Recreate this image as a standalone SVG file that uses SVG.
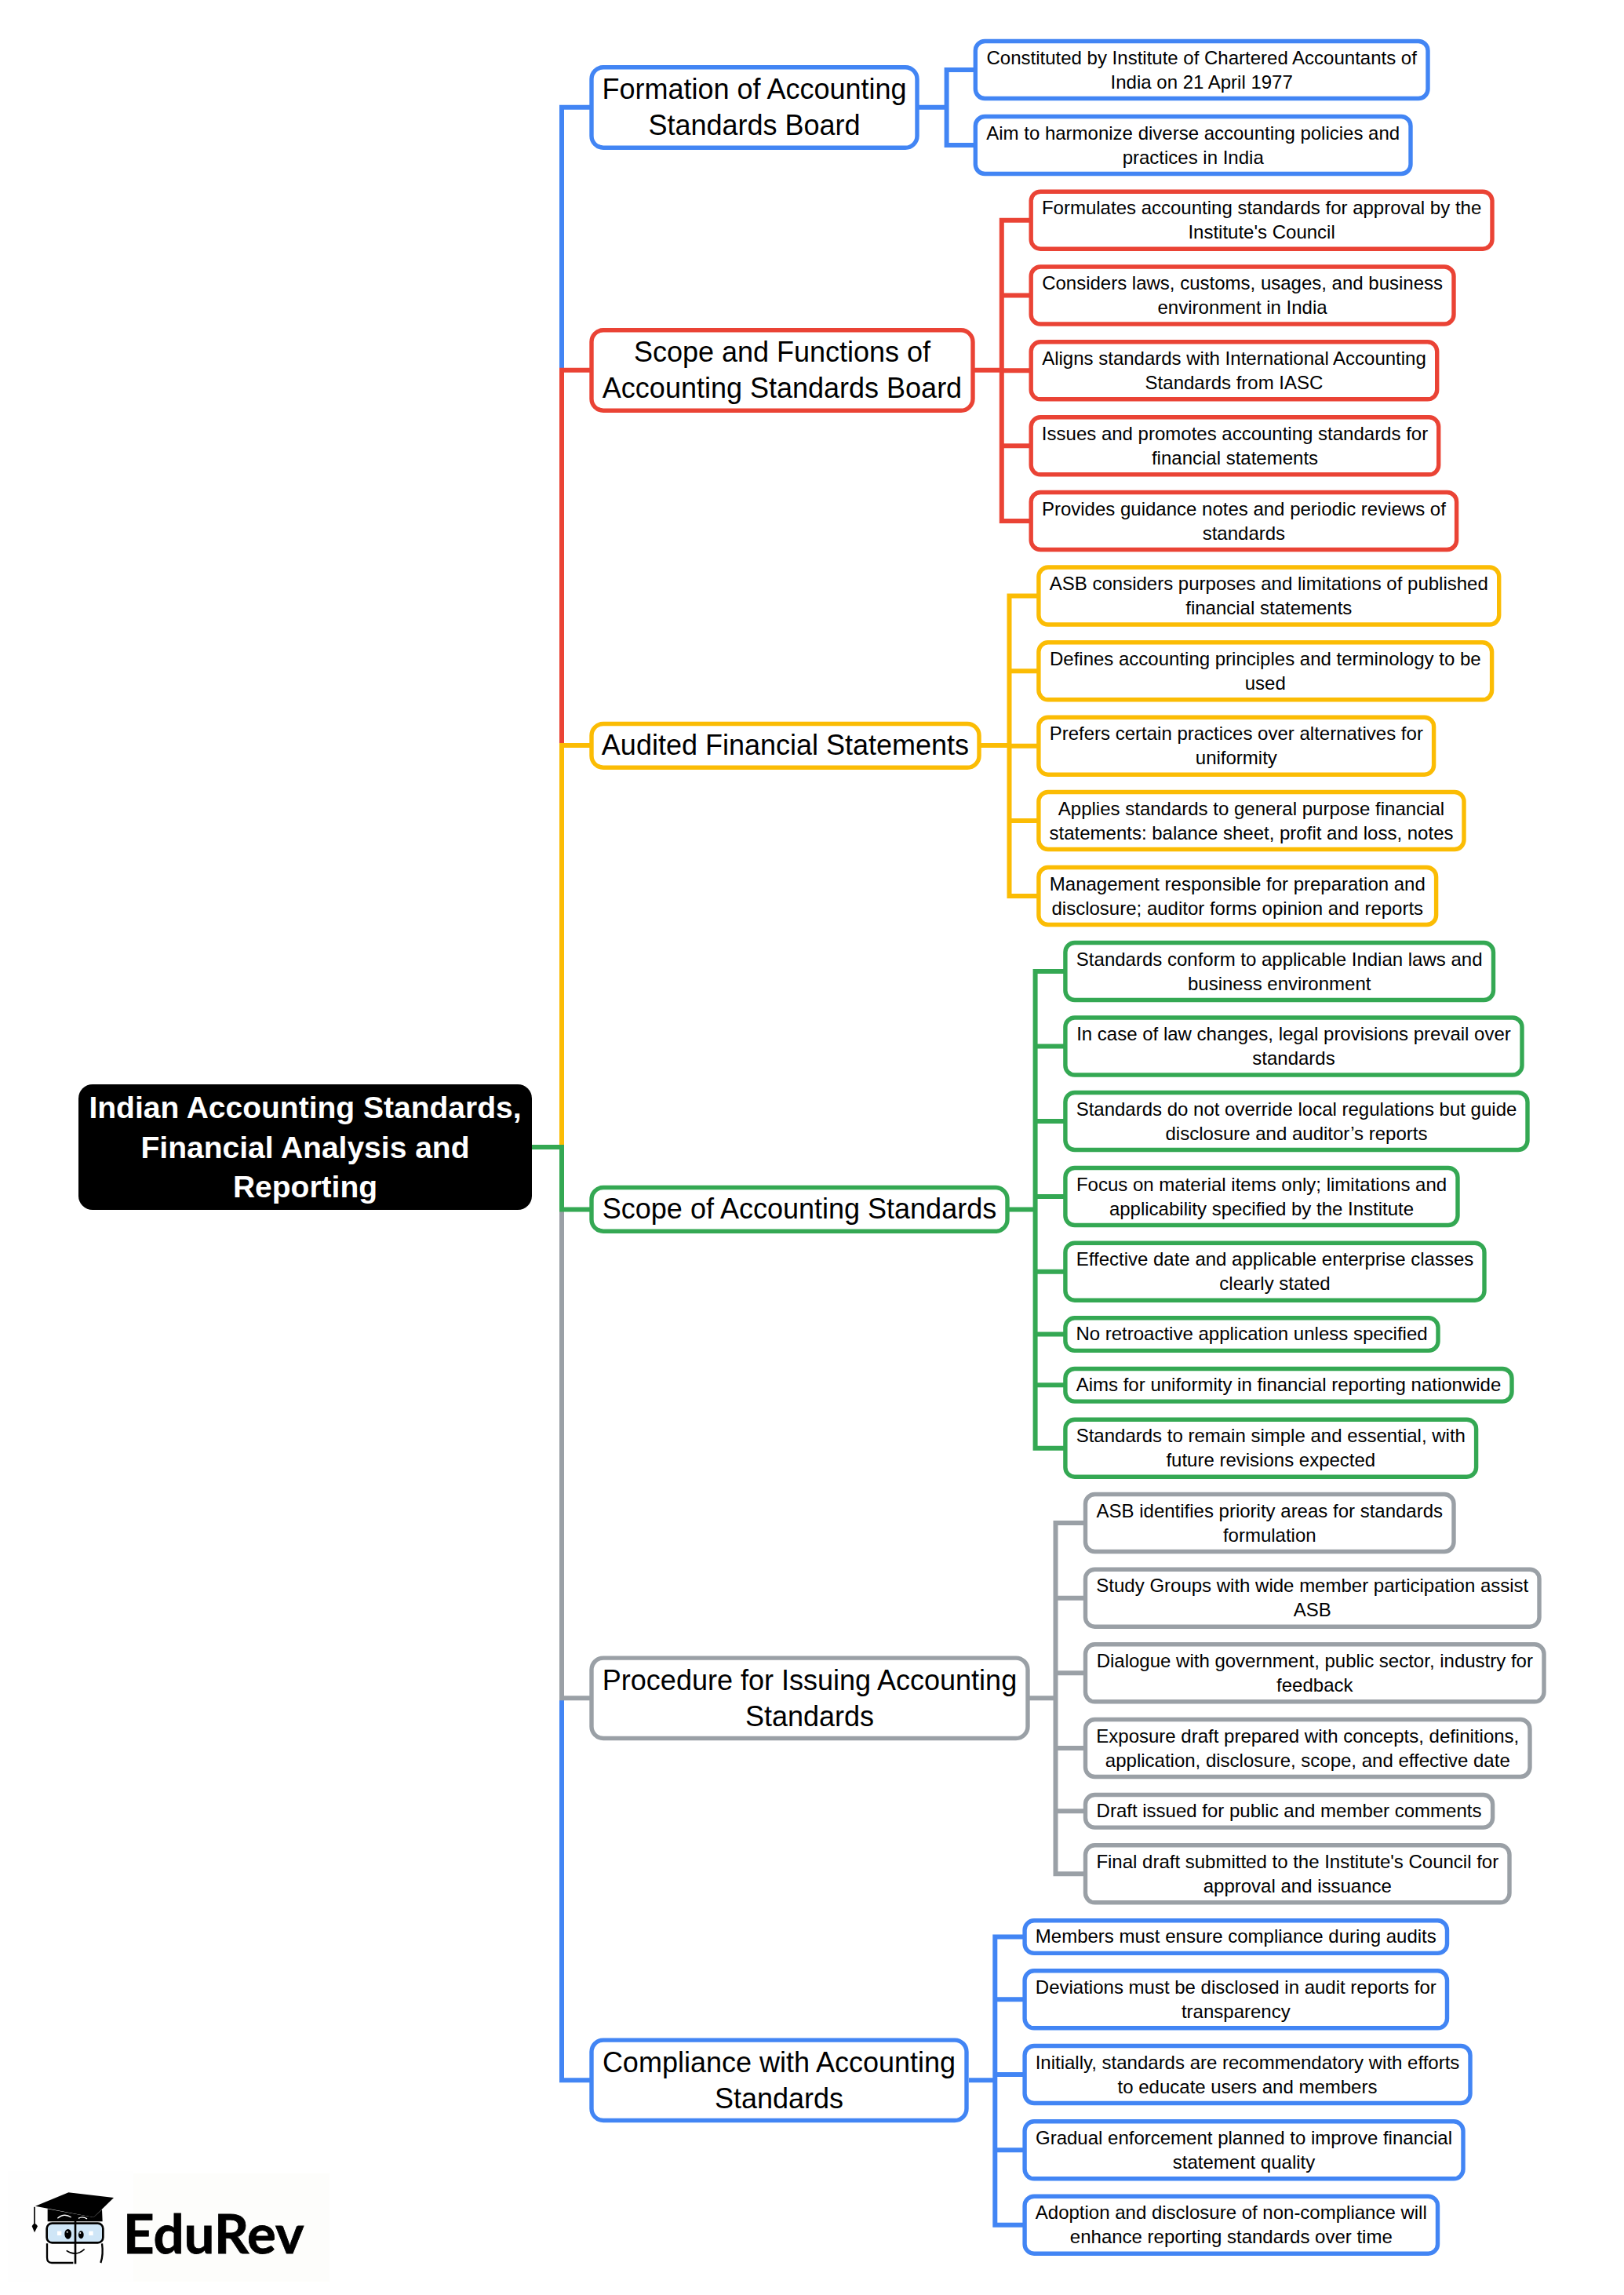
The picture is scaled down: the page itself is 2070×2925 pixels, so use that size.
<svg xmlns="http://www.w3.org/2000/svg" width="2070" height="2925" viewBox="0 0 2070 2925">
<style>
text{font-family:"Liberation Sans",Arial,sans-serif;fill:#000;text-anchor:middle}
.l text{font-size:24px}
.m text{font-size:36px}
.l rect,.m rect{fill:#fff;stroke-width:5.4}
.l rect{rx:12px;ry:12px}
.m rect{rx:15px;ry:15px}
.b rect{stroke:#4285f4}.r rect{stroke:#ea4335}.y rect{stroke:#fbbc04}.g rect{stroke:#34a853}.s rect{stroke:#9aa0a6}
#connectors path{fill:none;stroke-width:6;stroke-linejoin:miter}
.cb{stroke:#4285f4}.cr{stroke:#ea4335}.cy{stroke:#fbbc04}.cg{stroke:#34a853}.cs{stroke:#9aa0a6}
</style>
<rect width="2070" height="2925" fill="#fff"/>
<g id="connectors">
<path class="cb" d="M678 1462H716V136.7H754"/>
<path class="cr" d="M678 1462H716V471.7H754"/>
<path class="cy" d="M678 1462H716V950H754"/>
<path class="cb" d="M678 1462H716V2651.3H754"/>
<path class="cs" d="M678 1462H716V2164.3H754"/>
<path class="cg" d="M678 1462H716V1541.5H754"/>
<path class="cb" d="M1168 136.7H1206.6M1243 89H1206.6V185H1243"/>
<path class="cr" d="M1240 471.7H1276.8M1314 280.7H1276.8V664H1314M1276.8 376.5H1314M1276.8 472.3H1314M1276.8 568.3H1314"/>
<path class="cy" d="M1248 950H1286.5M1324 759.5H1286.5V1142H1324M1286.5 855.3H1324M1286.5 950.7H1324M1286.5 1046H1324"/>
<path class="cg" d="M1285 1541.5H1319.6M1358 1238H1319.6V1845.7H1358M1319.6 1333.5H1358M1319.6 1429H1358M1319.6 1525H1358M1319.6 1620.7H1358M1319.6 1700.5H1358M1319.6 1765.2H1358"/>
<path class="cs" d="M1307 2164.3H1345.5M1383.5 1941H1345.5V2388.3H1383.5M1345.5 2036.7H1383.5M1345.5 2132.3H1383.5M1345.5 2228H1383.5M1345.5 2308.2H1383.5"/>
<path class="cb" d="M1235 2651.3H1268.3M1306 2468.5H1268.3V2835.7H1306M1268.3 2548.3H1306M1268.3 2644H1306M1268.3 2740.3H1306"/>
</g>
<g id="root"><rect x="100" y="1382" width="578" height="160" rx="18" fill="#000"/>
<g style="font-weight:700;font-size:39px"><text x="389" y="1425" style="fill:#fff">Indian Accounting Standards,</text><text x="389" y="1475.5" style="fill:#fff">Financial Analysis and</text><text x="389" y="1525.7" style="fill:#fff">Reporting</text></g></g>

<g id="m1" class="m b"><rect x="754" y="85.8" width="415" height="102.4"/><text x="961.5" y="126">Formation of Accounting</text><text x="961.5" y="172">Standards Board</text></g>
<g id="m2" class="m r"><rect x="754" y="420.8" width="486" height="102.4"/><text x="997" y="461">Scope and Functions of</text><text x="997" y="507">Accounting Standards Board</text></g>
<g id="m3" class="m y"><rect x="754" y="922.5" width="494" height="55.7"/><text x="1001" y="962">Audited Financial Statements</text></g>
<g id="m4" class="m g"><rect x="754" y="1513.5" width="530" height="55.7"/><text x="1019" y="1553">Scope of Accounting Standards</text></g>
<g id="m5" class="m s"><rect x="754" y="2113.1" width="556" height="102.4"/><text x="1032" y="2153.5">Procedure for Issuing Accounting</text><text x="1032" y="2199.5">Standards</text></g>
<g id="m6" class="m b"><rect x="754" y="2600.1" width="478" height="102.4"/><text x="993" y="2640.5">Compliance with Accounting</text><text x="993" y="2686.5">Standards</text></g>

<g id="n1" class="l b"><rect x="1243.3" y="52.5" width="576.7" height="73"/><text x="1531.7" y="81.5">Constituted by Institute of Chartered Accountants of</text><text x="1531.7" y="112.6">India on 21 April 1977</text></g>
<g id="n2" class="l b"><rect x="1243.3" y="148.5" width="554.7" height="73"/><text x="1520.7" y="177.5">Aim to harmonize diverse accounting policies and</text><text x="1520.7" y="208.6">practices in India</text></g>

<g id="n3" class="l r"><rect x="1314.2" y="244.2" width="587.8" height="73"/><text x="1608.1" y="273.2">Formulates accounting standards for approval by the</text><text x="1608.1" y="304.3">Institute's Council</text></g>
<g id="n4" class="l r"><rect x="1314.2" y="340" width="538.8" height="73"/><text x="1583.6" y="369">Considers laws, customs, usages, and business</text><text x="1583.6" y="400.1">environment in India</text></g>
<g id="n5" class="l r"><rect x="1314.2" y="435.8" width="517.5" height="73"/><text x="1573" y="464.8">Aligns standards with International Accounting</text><text x="1573" y="495.9">Standards from IASC</text></g>
<g id="n6" class="l r"><rect x="1314.2" y="531.8" width="519.5" height="73"/><text x="1574" y="560.8">Issues and promotes accounting standards for</text><text x="1574" y="591.9">financial statements</text></g>
<g id="n7" class="l r"><rect x="1314.2" y="627.5" width="542.4" height="73"/><text x="1585.4" y="656.5">Provides guidance notes and periodic reviews of</text><text x="1585.4" y="687.6">standards</text></g>

<g id="n8" class="l y"><rect x="1323.9" y="723" width="586.8" height="73"/><text x="1617.3" y="752">ASB considers purposes and limitations of published</text><text x="1617.3" y="783.1">financial statements</text></g>
<g id="n9" class="l y"><rect x="1323.9" y="818.8" width="577.7" height="73"/><text x="1612.8" y="847.8">Defines accounting principles and terminology to be</text><text x="1612.8" y="878.9">used</text></g>
<g id="n10" class="l y"><rect x="1323.9" y="914.2" width="503.7" height="73"/><text x="1575.8" y="943.2">Prefers certain practices over alternatives for</text><text x="1575.8" y="974.3">uniformity</text></g>
<g id="n11" class="l y"><rect x="1323.9" y="1009.5" width="542.1" height="73"/><text x="1595" y="1038.5">Applies standards to general purpose financial</text><text x="1595" y="1069.6">statements: balance sheet, profit and loss, notes</text></g>
<g id="n12" class="l y"><rect x="1323.9" y="1105.5" width="506.7" height="73"/><text x="1577.3" y="1134.5">Management responsible for preparation and</text><text x="1577.3" y="1165.6">disclosure; auditor forms opinion and reports</text></g>

<g id="n13" class="l g"><rect x="1357.9" y="1201.5" width="545.6" height="73"/><text x="1630.7" y="1230.5">Standards conform to applicable Indian laws and</text><text x="1630.7" y="1261.6">business environment</text></g>
<g id="n14" class="l g"><rect x="1357.9" y="1297" width="582.1" height="73"/><text x="1649" y="1326">In case of law changes, legal provisions prevail over</text><text x="1649" y="1357.1">standards</text></g>
<g id="n15" class="l g"><rect x="1357.9" y="1392.5" width="589.1" height="73"/><text x="1652.5" y="1421.5">Standards do not override local regulations but guide</text><text x="1652.5" y="1452.6">disclosure and auditor’s reports</text></g>
<g id="n16" class="l g"><rect x="1357.9" y="1488.5" width="500.1" height="73"/><text x="1608" y="1517.5">Focus on material items only; limitations and</text><text x="1608" y="1548.6">applicability specified by the Institute</text></g>
<g id="n17" class="l g"><rect x="1357.9" y="1584.2" width="534.1" height="73"/><text x="1625" y="1613.2">Effective date and applicable enterprise classes</text><text x="1625" y="1644.3">clearly stated</text></g>
<g id="n18" class="l g"><rect x="1357.9" y="1679.8" width="475.1" height="41.6"/><text x="1595.5" y="1708.4">No retroactive application unless specified</text></g>
<g id="n19" class="l g"><rect x="1357.9" y="1744.5" width="569.1" height="41.6"/><text x="1642.5" y="1773.1">Aims for uniformity in financial reporting nationwide</text></g>
<g id="n20" class="l g"><rect x="1357.9" y="1809.2" width="523.7" height="73"/><text x="1619.8" y="1838.2">Standards to remain simple and essential, with</text><text x="1619.8" y="1869.3">future revisions expected</text></g>

<g id="n21" class="l s"><rect x="1383.5" y="1904.5" width="469.5" height="73"/><text x="1618.3" y="1933.5">ASB identifies priority areas for standards</text><text x="1618.3" y="1964.6">formulation</text></g>
<g id="n22" class="l s"><rect x="1383.5" y="2000.2" width="578.5" height="73"/><text x="1672.8" y="2029.2">Study Groups with wide member participation assist</text><text x="1672.8" y="2060.3">ASB</text></g>
<g id="n23" class="l s"><rect x="1383.5" y="2095.8" width="584.5" height="73"/><text x="1675.8" y="2124.8">Dialogue with government, public sector, industry for</text><text x="1675.8" y="2155.9">feedback</text></g>
<g id="n24" class="l s"><rect x="1383.5" y="2191.5" width="566.5" height="73"/><text x="1666.8" y="2220.5">Exposure draft prepared with concepts, definitions,</text><text x="1666.8" y="2251.6">application, disclosure, scope, and effective date</text></g>
<g id="n25" class="l s"><rect x="1383.5" y="2287.5" width="519.1" height="41.6"/><text x="1643" y="2316.1">Draft issued for public and member comments</text></g>
<g id="n26" class="l s"><rect x="1383.5" y="2351.8" width="540.5" height="73"/><text x="1653.8" y="2380.8">Final draft submitted to the Institute's Council for</text><text x="1653.8" y="2411.9">approval and issuance</text></g>

<g id="n27" class="l b"><rect x="1306.1" y="2447.8" width="538.4" height="41.6"/><text x="1575.3" y="2476.4">Members must ensure compliance during audits</text></g>
<g id="n28" class="l b"><rect x="1306.1" y="2511.8" width="538.4" height="73"/><text x="1575.3" y="2540.8">Deviations must be disclosed in audit reports for</text><text x="1575.3" y="2571.9">transparency</text></g>
<g id="n29" class="l b"><rect x="1306.1" y="2607.5" width="567.9" height="73"/><text x="1590" y="2636.5">Initially, standards are recommendatory with efforts</text><text x="1590" y="2667.6">to educate users and members</text></g>
<g id="n30" class="l b"><rect x="1306.1" y="2703.8" width="558.9" height="73"/><text x="1585.5" y="2732.8">Gradual enforcement planned to improve financial</text><text x="1585.5" y="2763.9">statement quality</text></g>
<g id="n31" class="l b"><rect x="1306.1" y="2799.2" width="526.4" height="73"/><text x="1569.3" y="2828.2">Adoption and disclosure of non-compliance will</text><text x="1569.3" y="2859.3">enhance reporting standards over time</text></g>

<g id="logo">
<rect x="10" y="2767" width="160" height="141" fill="#fefefe"/>
<rect x="170" y="2770" width="250" height="138" fill="#fdfdfb"/>
<g transform="translate(0 2740) scale(.33333)">
<polygon points="135,215 262,163 435,183 358,258" fill="#000"/>
<polygon points="182,226 358,258 390,228 392,274 182,274" fill="#000"/>
<path d="M220 262Q245 240 272 258M300 262Q316 252 333 264" fill="none" stroke="#fff" stroke-width="4"/>
<path d="M132 218V285" stroke="#000" stroke-width="5" fill="none"/>
<path d="M122 292Q132 272 144 292L132 316Z" fill="#000"/>
<rect x="179" y="281" width="215" height="74" rx="20" fill="#cfe6f7" stroke="#000" stroke-width="8"/>
<path d="M288 272V436" stroke="#000" stroke-width="8" fill="none"/>
<path d="M280 432H198Q180 432 180 412V358M385 432Q396 400 390 358" fill="none" stroke="#000" stroke-width="7"/>
<path d="M254 385Q290 410 323 380" fill="none" stroke="#000" stroke-width="5"/>
<ellipse cx="260" cy="322" rx="13" ry="19" fill="#000"/><ellipse cx="310" cy="325" rx="10" ry="15" fill="#000"/>
<circle cx="257" cy="314" r="3" fill="#fff"/><circle cx="307" cy="318" r="3" fill="#fff"/>
<rect x="219" y="311" width="16" height="16" fill="#fff"/><rect x="340" y="311" width="16" height="16" fill="#fff"/>
</g>
<text x="157" y="2871.7" style="font-family:Lato,'Noto Sans',sans-serif;font-weight:700;font-size:69px;text-anchor:start;stroke:#000;stroke-width:.8">EduRev</text>
</g>
</svg>
